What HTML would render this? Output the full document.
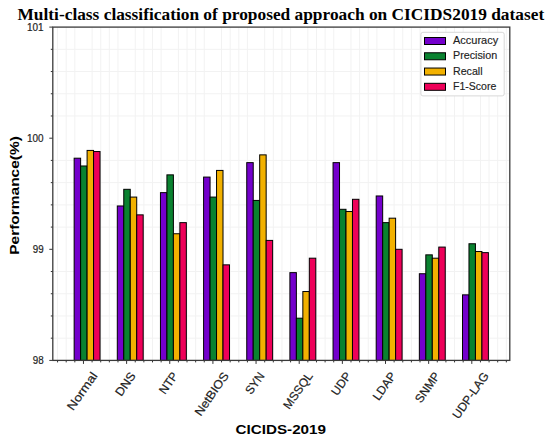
<!DOCTYPE html><html><head><meta charset="utf-8"><style>html,body{margin:0;padding:0;background:#fff;width:550px;height:443px;overflow:hidden}</style></head><body><svg width="550" height="443" viewBox="0 0 550 443" style="display:block">
<rect x="0" y="0" width="550" height="443" fill="#fff"/>
<path d="M57.57 27.10V360.40M66.20 27.10V360.40M74.83 27.10V360.40M92.09 27.10V360.40M100.72 27.10V360.40M109.35 27.10V360.40M117.98 27.10V360.40M135.24 27.10V360.40M143.87 27.10V360.40M152.50 27.10V360.40M161.13 27.10V360.40M178.39 27.10V360.40M187.02 27.10V360.40M195.65 27.10V360.40M204.28 27.10V360.40M221.54 27.10V360.40M230.17 27.10V360.40M238.80 27.10V360.40M247.43 27.10V360.40M264.69 27.10V360.40M273.32 27.10V360.40M281.95 27.10V360.40M290.58 27.10V360.40M307.84 27.10V360.40M316.47 27.10V360.40M325.10 27.10V360.40M333.73 27.10V360.40M350.99 27.10V360.40M359.62 27.10V360.40M368.25 27.10V360.40M376.88 27.10V360.40M394.14 27.10V360.40M402.77 27.10V360.40M411.40 27.10V360.40M420.03 27.10V360.40M437.29 27.10V360.40M445.92 27.10V360.40M454.55 27.10V360.40M463.18 27.10V360.40M480.44 27.10V360.40M489.07 27.10V360.40M497.70 27.10V360.40M506.33 27.10V360.40M52.80 338.18H509.80M52.80 315.96H509.80M52.80 293.74H509.80M52.80 271.52H509.80M52.80 227.08H509.80M52.80 204.86H509.80M52.80 182.64H509.80M52.80 160.42H509.80M52.80 115.98H509.80M52.80 93.76H509.80M52.80 71.54H509.80M52.80 49.32H509.80" stroke="#f2f2f2" stroke-width="1" fill="none"/>
<rect x="74.15" y="158.20" width="6.47" height="202.20" fill="#7400cc" stroke="#000" stroke-width="1"/>
<rect x="80.62" y="165.98" width="6.47" height="194.42" fill="#0a8230" stroke="#000" stroke-width="1"/>
<rect x="87.09" y="150.42" width="6.47" height="209.98" fill="#f2b100" stroke="#000" stroke-width="1"/>
<rect x="93.57" y="151.53" width="6.47" height="208.87" fill="#ee0059" stroke="#000" stroke-width="1"/>
<rect x="117.30" y="205.97" width="6.47" height="154.43" fill="#7400cc" stroke="#000" stroke-width="1"/>
<rect x="123.77" y="189.31" width="6.47" height="171.09" fill="#0a8230" stroke="#000" stroke-width="1"/>
<rect x="130.25" y="197.08" width="6.47" height="163.32" fill="#f2b100" stroke="#000" stroke-width="1"/>
<rect x="136.72" y="214.86" width="6.47" height="145.54" fill="#ee0059" stroke="#000" stroke-width="1"/>
<rect x="160.45" y="192.64" width="6.47" height="167.76" fill="#7400cc" stroke="#000" stroke-width="1"/>
<rect x="166.92" y="174.86" width="6.47" height="185.54" fill="#0a8230" stroke="#000" stroke-width="1"/>
<rect x="173.39" y="233.75" width="6.47" height="126.65" fill="#f2b100" stroke="#000" stroke-width="1"/>
<rect x="179.87" y="222.64" width="6.47" height="137.76" fill="#ee0059" stroke="#000" stroke-width="1"/>
<rect x="203.60" y="177.08" width="6.47" height="183.32" fill="#7400cc" stroke="#000" stroke-width="1"/>
<rect x="210.07" y="197.08" width="6.47" height="163.32" fill="#0a8230" stroke="#000" stroke-width="1"/>
<rect x="216.54" y="170.42" width="6.47" height="189.98" fill="#f2b100" stroke="#000" stroke-width="1"/>
<rect x="223.02" y="264.85" width="6.47" height="95.55" fill="#ee0059" stroke="#000" stroke-width="1"/>
<rect x="246.75" y="162.64" width="6.47" height="197.76" fill="#7400cc" stroke="#000" stroke-width="1"/>
<rect x="253.22" y="200.42" width="6.47" height="159.98" fill="#0a8230" stroke="#000" stroke-width="1"/>
<rect x="259.69" y="154.87" width="6.47" height="205.53" fill="#f2b100" stroke="#000" stroke-width="1"/>
<rect x="266.17" y="240.41" width="6.47" height="119.99" fill="#ee0059" stroke="#000" stroke-width="1"/>
<rect x="289.90" y="272.63" width="6.47" height="87.77" fill="#7400cc" stroke="#000" stroke-width="1"/>
<rect x="296.37" y="318.18" width="6.47" height="42.22" fill="#0a8230" stroke="#000" stroke-width="1"/>
<rect x="302.85" y="291.52" width="6.47" height="68.88" fill="#f2b100" stroke="#000" stroke-width="1"/>
<rect x="309.32" y="258.19" width="6.47" height="102.21" fill="#ee0059" stroke="#000" stroke-width="1"/>
<rect x="333.05" y="162.64" width="6.47" height="197.76" fill="#7400cc" stroke="#000" stroke-width="1"/>
<rect x="339.52" y="209.30" width="6.47" height="151.10" fill="#0a8230" stroke="#000" stroke-width="1"/>
<rect x="346.00" y="211.53" width="6.47" height="148.87" fill="#f2b100" stroke="#000" stroke-width="1"/>
<rect x="352.47" y="199.30" width="6.47" height="161.10" fill="#ee0059" stroke="#000" stroke-width="1"/>
<rect x="376.20" y="195.97" width="6.47" height="164.43" fill="#7400cc" stroke="#000" stroke-width="1"/>
<rect x="382.67" y="222.64" width="6.47" height="137.76" fill="#0a8230" stroke="#000" stroke-width="1"/>
<rect x="389.14" y="218.19" width="6.47" height="142.21" fill="#f2b100" stroke="#000" stroke-width="1"/>
<rect x="395.62" y="249.30" width="6.47" height="111.10" fill="#ee0059" stroke="#000" stroke-width="1"/>
<rect x="419.35" y="273.74" width="6.47" height="86.66" fill="#7400cc" stroke="#000" stroke-width="1"/>
<rect x="425.82" y="254.85" width="6.47" height="105.55" fill="#0a8230" stroke="#000" stroke-width="1"/>
<rect x="432.30" y="258.19" width="6.47" height="102.21" fill="#f2b100" stroke="#000" stroke-width="1"/>
<rect x="438.77" y="247.08" width="6.47" height="113.32" fill="#ee0059" stroke="#000" stroke-width="1"/>
<rect x="462.50" y="294.85" width="6.47" height="65.55" fill="#7400cc" stroke="#000" stroke-width="1"/>
<rect x="468.97" y="243.75" width="6.47" height="116.65" fill="#0a8230" stroke="#000" stroke-width="1"/>
<rect x="475.45" y="251.52" width="6.47" height="108.88" fill="#f2b100" stroke="#000" stroke-width="1"/>
<rect x="481.92" y="252.63" width="6.47" height="107.77" fill="#ee0059" stroke="#000" stroke-width="1"/>
<path d="M57.57 360.40v2M66.20 360.40v2M74.83 360.40v2M83.46 360.40v3.5M92.09 360.40v2M100.72 360.40v2M109.35 360.40v2M117.98 360.40v2M126.61 360.40v3.5M135.24 360.40v2M143.87 360.40v2M152.50 360.40v2M161.13 360.40v2M169.76 360.40v3.5M178.39 360.40v2M187.02 360.40v2M195.65 360.40v2M204.28 360.40v2M212.91 360.40v3.5M221.54 360.40v2M230.17 360.40v2M238.80 360.40v2M247.43 360.40v2M256.06 360.40v3.5M264.69 360.40v2M273.32 360.40v2M281.95 360.40v2M290.58 360.40v2M299.21 360.40v3.5M307.84 360.40v2M316.47 360.40v2M325.10 360.40v2M333.73 360.40v2M342.36 360.40v3.5M350.99 360.40v2M359.62 360.40v2M368.25 360.40v2M376.88 360.40v2M385.51 360.40v3.5M394.14 360.40v2M402.77 360.40v2M411.40 360.40v2M420.03 360.40v2M428.66 360.40v3.5M437.29 360.40v2M445.92 360.40v2M454.55 360.40v2M463.18 360.40v2M471.81 360.40v3.5M480.44 360.40v2M489.07 360.40v2M497.70 360.40v2M506.33 360.40v2M52.80 360.40h-3.5M52.80 338.18h-2M52.80 315.96h-2M52.80 293.74h-2M52.80 271.52h-2M52.80 249.30h-3.5M52.80 227.08h-2M52.80 204.86h-2M52.80 182.64h-2M52.80 160.42h-2M52.80 138.20h-3.5M52.80 115.98h-2M52.80 93.76h-2M52.80 71.54h-2M52.80 49.32h-2M52.80 27.10h-3.5" stroke="#333" stroke-width="1" fill="none"/>
<rect x="52.80" y="27.10" width="457.00" height="333.30" fill="none" stroke="#3a3a3a" stroke-width="1.3"/>
<text x="32.70" y="364.30" font-family="Liberation Sans" font-size="11" fill="#222" stroke="#222" stroke-width="0.2" textLength="10.9" lengthAdjust="spacingAndGlyphs">98</text>
<text x="32.70" y="253.20" font-family="Liberation Sans" font-size="11" fill="#222" stroke="#222" stroke-width="0.2" textLength="10.9" lengthAdjust="spacingAndGlyphs">99</text>
<text x="27.00" y="142.10" font-family="Liberation Sans" font-size="11" fill="#222" stroke="#222" stroke-width="0.2" textLength="16.6" lengthAdjust="spacingAndGlyphs">100</text>
<text x="27.00" y="31.00" font-family="Liberation Sans" font-size="11" fill="#222" stroke="#222" stroke-width="0.2" textLength="16.6" lengthAdjust="spacingAndGlyphs">101</text>
<text transform="translate(82.36,391.30) rotate(-55)" x="-21.71" y="3.90" font-family="Liberation Sans" font-size="12" fill="#222" stroke="#222" stroke-width="0.2" textLength="43.43" lengthAdjust="spacingAndGlyphs">Normal</text>
<text transform="translate(125.51,384.10) rotate(-55)" x="-12.92" y="3.90" font-family="Liberation Sans" font-size="12" fill="#222" stroke="#222" stroke-width="0.2" textLength="25.84" lengthAdjust="spacingAndGlyphs">DNS</text>
<text transform="translate(168.66,383.16) rotate(-55)" x="-11.78" y="3.90" font-family="Liberation Sans" font-size="12" fill="#222" stroke="#222" stroke-width="0.2" textLength="23.55" lengthAdjust="spacingAndGlyphs">NTP</text>
<text transform="translate(211.81,393.96) rotate(-55)" x="-24.95" y="3.90" font-family="Liberation Sans" font-size="12" fill="#222" stroke="#222" stroke-width="0.2" textLength="49.91" lengthAdjust="spacingAndGlyphs">NetBIOS</text>
<text transform="translate(254.96,383.32) rotate(-55)" x="-11.97" y="3.90" font-family="Liberation Sans" font-size="12" fill="#222" stroke="#222" stroke-width="0.2" textLength="23.93" lengthAdjust="spacingAndGlyphs">SYN</text>
<text transform="translate(298.11,390.61) rotate(-55)" x="-20.86" y="3.90" font-family="Liberation Sans" font-size="12" fill="#222" stroke="#222" stroke-width="0.2" textLength="41.73" lengthAdjust="spacingAndGlyphs">MSSQL</text>
<text transform="translate(341.26,383.86) rotate(-55)" x="-12.63" y="3.90" font-family="Liberation Sans" font-size="12" fill="#222" stroke="#222" stroke-width="0.2" textLength="25.27" lengthAdjust="spacingAndGlyphs">UDP</text>
<text transform="translate(384.41,386.28) rotate(-55)" x="-15.59" y="3.90" font-family="Liberation Sans" font-size="12" fill="#222" stroke="#222" stroke-width="0.2" textLength="31.18" lengthAdjust="spacingAndGlyphs">LDAP</text>
<text transform="translate(427.56,387.52) rotate(-55)" x="-17.09" y="3.90" font-family="Liberation Sans" font-size="12" fill="#222" stroke="#222" stroke-width="0.2" textLength="34.19" lengthAdjust="spacingAndGlyphs">SNMP</text>
<text transform="translate(470.71,395.46) rotate(-55)" x="-26.79" y="3.90" font-family="Liberation Sans" font-size="12" fill="#222" stroke="#222" stroke-width="0.2" textLength="53.59" lengthAdjust="spacingAndGlyphs">UDP-LAG</text>
<rect x="420.9" y="32.3" width="83.3" height="63.6" rx="2" fill="#fff" stroke="#d8d8d8" stroke-width="1"/>
<rect x="424.5" y="37.50" width="21" height="7" fill="#7400cc" stroke="#000" stroke-width="1"/>
<text x="453" y="44.00" font-family="Liberation Sans" font-size="11" fill="#222" stroke="#222" stroke-width="0.15" textLength="45.20" lengthAdjust="spacingAndGlyphs">Accuracy</text>
<rect x="424.5" y="52.77" width="21" height="7" fill="#0a8230" stroke="#000" stroke-width="1"/>
<text x="453" y="59.27" font-family="Liberation Sans" font-size="11" fill="#222" stroke="#222" stroke-width="0.15" textLength="44.17" lengthAdjust="spacingAndGlyphs">Precision</text>
<rect x="424.5" y="68.04" width="21" height="7" fill="#f2b100" stroke="#000" stroke-width="1"/>
<text x="453" y="74.54" font-family="Liberation Sans" font-size="11" fill="#222" stroke="#222" stroke-width="0.15" textLength="29.54" lengthAdjust="spacingAndGlyphs">Recall</text>
<rect x="424.5" y="83.31" width="21" height="7" fill="#ee0059" stroke="#000" stroke-width="1"/>
<text x="453" y="89.81" font-family="Liberation Sans" font-size="11" fill="#222" stroke="#222" stroke-width="0.15" textLength="43.29" lengthAdjust="spacingAndGlyphs">F1-Score</text>
<text x="17.5" y="20.4" font-family="Liberation Serif" font-weight="bold" font-size="17.3" fill="#000" textLength="526.7" lengthAdjust="spacingAndGlyphs">Multi-class classification of proposed approach on CICIDS2019 dataset</text>
<text x="235.5" y="434" font-family="Liberation Sans" font-weight="bold" font-size="13" fill="#000" textLength="90.5" lengthAdjust="spacingAndGlyphs">CICIDS-2019</text>
<text transform="translate(18.6,254.8) rotate(-90)" x="0" y="0" font-family="Liberation Sans" font-weight="bold" font-size="13" fill="#000" textLength="118.7" lengthAdjust="spacingAndGlyphs">Performance(%)</text>
</svg></body></html>
